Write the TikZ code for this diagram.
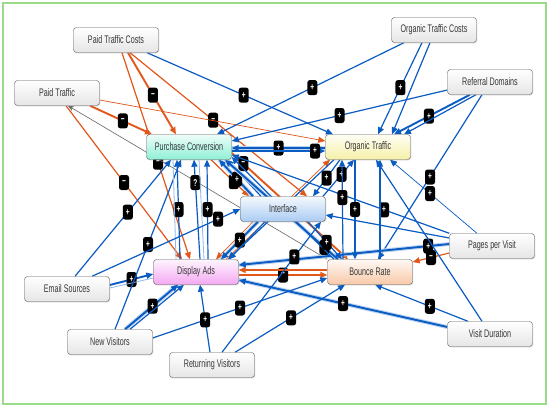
\documentclass[tikz,border=0pt]{standalone}
\usepackage{fontspec}
\setmainfont{Liberation Sans}[FakeStretch=0.65]
\usetikzlibrary{arrows.meta,shadows}
\definecolor{bl}{HTML}{0A5CC2}
\definecolor{orng}{HTML}{E2571A}
\definecolor{lbl}{HTML}{8DB8E8}
\definecolor{frm}{HTML}{9ADB8A}
\definecolor{pcb}{HTML}{8EF0D6}
\definecolor{otb}{HTML}{F6F0A8}
\definecolor{ifb}{HTML}{A9CBF3}
\definecolor{dab}{HTML}{F4A8F2}
\definecolor{brb}{HTML}{F8C9A8}
\pgfdeclarelayer{bg}
\pgfdeclarelayer{edges}
\pgfsetlayers{bg,edges,main}
\tikzset{
  concept/.style={draw=gray!70!black, rounded corners=3pt, minimum width=85pt, minimum height=25pt,
    inner sep=1pt, top color=white, bottom color=gray!20, font=\fontsize{11}{12}\selectfont, text=black!78,
    drop shadow={opacity=0.2, shadow xshift=0.8pt, shadow yshift=-1pt}},
  pcfill/.style={top color=pcb!15, bottom color=pcb},
  otfill/.style={top color=otb!12, bottom color=otb},
  iffill/.style={top color=ifb!12, bottom color=ifb},
  dafill/.style={top color=dab!12, bottom color=dab},
  brfill/.style={top color=brb!12, bottom color=brb},
  badge/.style={fill=black, rounded corners=2.5pt, minimum width=10pt, minimum height=15pt, inner sep=0pt,
    text=white, font=\fontsize{10}{10}\bfseries\selectfont},
  be/.style={draw=bl, line width=1.2pt, -{Triangle[length=7pt,width=6pt]}},
  oe/.style={draw=orng, line width=1.2pt, -{Triangle[length=7pt,width=6pt]}},
  lb/.style={draw=lbl, line width=0.8pt},
  ge/.style={draw=gray!80!black, line width=0.6pt, -{Stealth[length=6pt,width=5pt]}},
  thin2/.style={line width=0.7pt},
  thick2/.style={line width=1.9pt},
  halo/.style={preaction={draw=lbl!60, line width=4pt, arrows=-}},
}
\begin{document}
\begin{tikzpicture}[x=1pt,y=-1pt]
\useasboundingbox (0,0) rectangle (550,407);
\begin{pgfonlayer}{bg}
\fill[white] (0,0) rectangle (550,407);
\draw[frm, line width=1.2pt] (3,3) rectangle (546,404);
\end{pgfonlayer}

\node[concept] (ptc) at (116,40) {Paid Traffic Costs};
\node[concept] (pt) at (57,93) {Paid Traffic};
\node[concept] (otc) at (434,30) {Organic Traffic Costs};
\node[concept] (rd) at (490,82) {Referral Domains};
\node[concept,pcfill] (pc) at (189,147) {Purchase Conversion};
\node[concept,otfill] (ot) at (368,147) {Organic Traffic};
\node[concept,iffill] (intf) at (283,209) {Interface};
\node[concept,dafill] (da) at (196,272) {Display Ads};
\node[concept,brfill] (br) at (370,272) {Bounce Rate};
\node[concept] (ppv) at (492,246) {Pages per Visit};
\node[concept] (vd) at (490,334) {Visit Duration};
\node[concept] (es) at (67,289) {Email Sources};
\node[concept] (nv) at (110,342) {New Visitors};
\node[concept] (rv) at (212,365) {Returning Visitors};

\begin{pgfonlayer}{edges}
% orange
\draw[oe,thick2] ([xshift=12pt]ptc.south) -- node[badge,pos=0.52](b1){−} ([xshift=-13pt]pc.north);
\draw[oe] ([xshift=14pt]ptc.south) -- node[badge,pos=0.47](b2){−} ([xshift=24pt]intf.north);
\draw[oe,thick2] ([xshift=33pt]pt.south) -- node[badge,pos=0.53](b3){−} ([xshift=-37pt]pc.north);
\draw[oe,thin2] ([yshift=-7pt]pt.east) -- ([yshift=6pt]ot.west);
\draw[oe] ([xshift=9pt]pt.south) -- node[badge,pos=0.5](b4){−} ([xshift=-14pt]da.north);
\draw[oe] ([xshift=6pt]ptc.south) -- node[badge,pos=0.53](b5){−} ([xshift=-6pt]da.north);
\draw[oe,thick2] ([yshift=-6pt]pc.east) -- node[badge,pos=0.1](b6){−} ([xshift=-22pt]br.north);
\draw[oe] ([xshift=22pt]pc.south) -- node[badge,pos=0.6](b7){−} ([xshift=-34pt]intf.north);
\draw[oe,thin2] ([xshift=-30pt]intf.south) -- ([xshift=20pt]da.north);
\draw[oe,thin2] ([xshift=30pt]da.north) -- ([xshift=-38pt]ot.south);
\draw[oe,thick2] ([yshift=-3pt]da.east) -- node[badge,pos=0.5](b8){−} ([yshift=-3pt]br.west);
\draw[oe] ([yshift=2pt]br.west) -- ([yshift=2pt]da.east);
\draw[oe] ([yshift=-7pt]ppv.west) -- node[badge,pos=0.5](b9){−} ([yshift=10pt]br.east);
% gray
\draw[ge] (br.north west) -- ([xshift=11pt]pt.south);
% blue
\draw[be] ([xshift=31pt]ptc.south) -- node[badge,pos=0.52](b10){+} ([xshift=-35pt]ot.north);
\draw[be] ([xshift=-30pt]otc.south) -- node[badge,pos=0.49](b11){+} ([xshift=28pt]pc.north);
\draw[be] ([yshift=-8pt]rd.west) -- node[badge,pos=0.5](b12){+} ([yshift=6pt]pc.east);
\draw[be] ([xshift=-12pt]otc.south) -- node[badge,pos=0.49](b13){+} ([xshift=10pt]ot.north);
\draw[be] ([xshift=-4pt]otc.south) -- ([xshift=24pt]ot.north);
\draw[be,thick2] ([xshift=-20pt]rd.south) -- node[badge,pos=0.54](b14){+} ([xshift=26pt]ot.north);
\draw[be] ([xshift=-14pt]rd.south) -- ([xshift=36pt]ot.north);
\draw[be] ([xshift=-8pt]rd.south) -- node[badge,pos=0.5](b15){+} ([xshift=8pt]br.north);
\draw[be,thin2] ([xshift=-15pt]ppv.north) -- node[badge,pos=0.54](b16){+} ([xshift=22pt]ot.south);
\draw[be] (ppv.north west) -- node[badge,pos=0.3](b17){+} ([yshift=-8pt]pc.east);
\draw[be,thick2,halo] ([yshift=2pt]ppv.west) -- node[badge,pos=0.1](b18){+} ([yshift=7pt]da.east);
\draw[be] ([xshift=-13pt]ot.south) -- node[badge,pos=0.5](b19){+} ([xshift=-15pt]br.north);
\draw[be] ([xshift=10pt]br.north) -- ([xshift=12pt]ot.south);
\draw[be] ([xshift=-8pt]vd.north) -- ([xshift=8pt]ot.south);
\draw[be] ([xshift=-22pt]vd.north) -- node[badge,pos=0.41](b20){+} ([xshift=5pt]br.south);
\draw[be,thick2,halo] ([yshift=7pt]vd.west) -- node[badge,pos=0.5](b21){+} ([yshift=-8pt]da.east);
\draw[be] ([xshift=23pt]rv.north) -- node[badge,pos=0.51](b22){+} ([xshift=-25pt]br.south);
\draw[be] ([yshift=4pt]nv.east) -- node[badge,pos=0.5](b23){+} ([yshift=-6pt]br.west);
\draw[be] ([xshift=-2pt]rv.north) -- node[badge,pos=0.48](b24){+} ([xshift=4pt]da.south);
\draw[be,thick2,halo] ([xshift=15pt]nv.north) -- node[badge,pos=0.52](b25){+} ([xshift=-18pt]da.south);
\draw[be] ([xshift=20pt]nv.north) -- ([xshift=-12pt]da.south);
\draw[be,thick2] ([yshift=4pt]es.east) -- node[badge,pos=0.5](b26){+} ([yshift=-2pt]da.west);
\draw[lb] ([yshift=1pt]es.east) -- ([yshift=-6pt]da.west);
\draw[be] ([xshift=8pt]es.north) -- node[badge,pos=0.55](b27){+} ([xshift=-18pt]pc.south);
\draw[be] ([xshift=5pt]nv.north) -- node[badge,pos=0.5](b28){+} ([xshift=-8pt]pc.south);
\draw[be] ([xshift=-16pt]da.north) -- node[badge,pos=0.5](b29){+} ([xshift=-12pt]pc.south);
\draw[lb] ([xshift=-20pt]da.north) -- ([xshift=-16pt]pc.south);
\draw[be] ([xshift=4pt]da.north) -- node[badge,pos=0.77](b30){?} ([xshift=5pt]pc.south);
\draw[be] ([xshift=12pt]da.north) -- node[badge,pos=0.5](b31){+} ([xshift=18pt]pc.south);
\draw[lb] ([xshift=8pt]da.north) -- ([xshift=10pt]pc.south);
\draw[be] ([xshift=25pt]es.north) -- node[badge,pos=0.85](b32){+} (intf.west);
\draw[be,thick2,halo] ([xshift=-25pt]intf.south) -- node[badge,pos=0.49](b33){+} ([xshift=25pt]da.north);
\draw[be] ([xshift=-18pt]intf.south) -- ([xshift=33pt]da.north);
\draw[be,thick2,halo] ([xshift=-30pt]intf.north) -- node[badge,pos=0.47](b34){+} ([xshift=30pt]pc.south);
\draw[be] ([xshift=-22pt]intf.north) -- ([xshift=38pt]pc.south);
\draw[be,thick2,halo] ([xshift=-32pt]br.north) -- node[badge,pos=0.12](b35){+} ([xshift=36pt]pc.south);
\draw[be] ([xshift=-36pt]br.north) -- ([yshift=-10pt]pc.east);
\draw[be] ([xshift=25pt]intf.south) -- node[badge,pos=0.55](b36){+} ([xshift=-28pt]br.north);
\draw[be] ([xshift=-28pt]ot.south) -- node[badge,pos=0.5](b37){+} ([xshift=30pt]intf.north);
\draw[be] ([xshift=-34pt]ot.south) -- ([xshift=32pt]da.north);
\draw[be] ([xshift=40pt]intf.north) -- node[badge,pos=0.6](b38){+} ([xshift=-14pt]ot.south);
\draw[be] ([xshift=-27pt]br.north) -- node[badge,pos=0.62](b39){+} ([xshift=-26pt]ot.south);
\draw[be,thick2,halo] ([yshift=-1pt]ot.west) -- node[badge,pos=0.5](b40){+} ([yshift=-1pt]pc.east);
\draw[be] ([yshift=-4pt]pc.east) -- node[badge,pos=0.89](b41){+} ([yshift=-4pt]ot.west);
\draw[be] ([xshift=10pt]rv.north) -- node[badge,pos=0.73](b42){+} ([xshift=38pt]intf.south);
\draw[be] ([yshift=8pt]ppv.west) -- ([yshift=-6pt]intf.east);
\end{pgfonlayer}
\end{tikzpicture}
\end{document}
